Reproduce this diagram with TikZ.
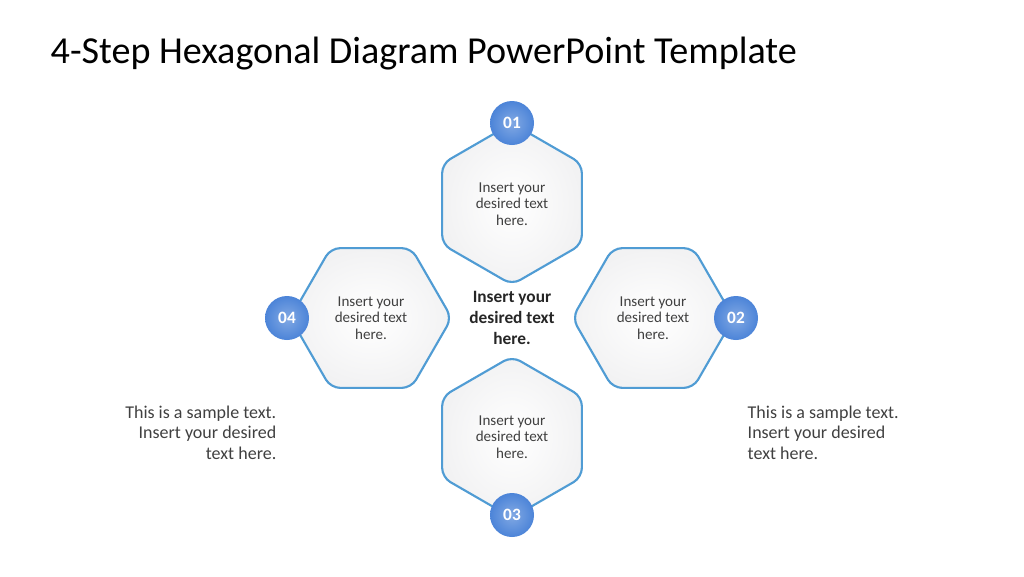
\documentclass[tikz,border=0pt]{standalone}
\usepackage{fontspec}
\setmainfont{Carlito}
\usetikzlibrary{shapes.geometric}
\definecolor{hexline}{HTML}{509CD4}
\definecolor{hexfill}{HTML}{F2F2F3}
\definecolor{badge}{HTML}{4C84D8}
\definecolor{bodytext}{HTML}{404040}
\tikzset{
  hexbox/.style={regular polygon, regular polygon sides=6, minimum size=121pt,
    draw=hexline, line width=1.6pt, rounded corners=7pt, inner color=white,
    outer color=hexfill, text=bodytext, align=center, font=\fontsize{11.3}{12.2}\selectfont},
  badgenode/.style={circle, minimum size=33pt, inner sep=0pt, inner color=badge!70,
    outer color=badge, text=white, font=\fontsize{13}{15}\selectfont\bfseries},
  sidetext/.style={text=bodytext, font=\fontsize{13.5}{15.5}\selectfont}
}
\begin{document}
\begin{tikzpicture}[x=0.75pt,y=-0.75pt]
\useasboundingbox (0,0) rectangle (1024,576);

\node (title) [anchor=west, font=\fontsize{28.6}{32}\selectfont] at (46,54) {4-Step Hexagonal Diagram PowerPoint Template};

\node (hex1) [hexbox, shape border rotate=30] at (512,204) {Insert your\\desired text\\here.};
\node (hex2) [hexbox] at (653,318) {Insert your\\desired text\\here.};
\node (hex3) [hexbox, shape border rotate=30] at (512,437) {Insert your\\desired text\\here.};
\node (hex4) [hexbox] at (371,318) {Insert your\\desired text\\here.};

\node (num1) [badgenode] at (512,123) {01};
\node (num2) [badgenode] at (736,318) {02};
\node (num3) [badgenode] at (512,515) {03};
\node (num4) [badgenode] at (287,318) {04};

\node (center) [align=center, text=black!85, font=\fontsize{13}{15.5}\selectfont\bfseries] at (512,318) {Insert your\\desired text\\here.};

\node (left) [sidetext, anchor=north east, align=right] at (281,401) {This is a sample text.\\Insert your desired\\text here.};
\node (right) [sidetext, anchor=north west, align=left] at (743,401) {This is a sample text.\\Insert your desired\\text here.};

\end{tikzpicture}
\end{document}
